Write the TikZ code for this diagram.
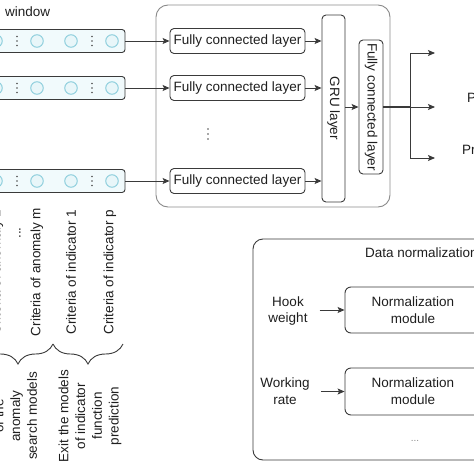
\documentclass[tikz,border=0pt]{standalone}
\usepackage{fontspec}
\setmainfont{Liberation Sans}
\usetikzlibrary{arrows.meta,decorations.pathreplacing}
\definecolor{ink}{HTML}{1E1E1E}
\definecolor{edge}{HTML}{3A3A3A}
\definecolor{lightedge}{HTML}{8A8A8A}
\definecolor{barfill}{HTML}{F1FAFC}
\definecolor{circedge}{HTML}{8FCFDD}
\definecolor{circfill}{HTML}{E8F6F9}
\definecolor{dotc}{HTML}{505050}
\tikzset{
  bar/.style={draw=edge, fill=barfill, rounded corners=3pt, line width=0.9pt, minimum width=140pt, minimum height=23pt, inner sep=0pt},
  circ/.style={circle, draw=circedge, fill=circfill, line width=1pt, minimum size=12.5pt, inner sep=0pt},
  fcbox/.style={draw=edge, rounded corners=4pt, line width=0.9pt, inner sep=1pt, text=ink},
  bigbox/.style={draw=lightedge, rounded corners=12pt, line width=0.9pt, inner sep=0pt},
  dnbox/.style={draw=edge, rounded corners=10pt, line width=0.9pt, inner sep=0pt},
  nbox/.style={draw=edge, rounded corners=6pt, line width=0.9pt, align=center, text=ink, minimum width=136pt},
  txt/.style={text=ink, inner sep=0pt},
  arr/.style={draw=edge, line width=0.9pt, -{Stealth[length=7pt,width=6pt,inset=1.5pt]}},
  plain/.style={draw=edge, line width=0.9pt},
  brc/.style={draw=edge, line width=0.9pt, decorate, decoration={brace, amplitude=20pt}},
}
\begin{document}
\begin{tikzpicture}[x=1pt, y=-1pt, font=\fontsize{13.5}{16.7}\selectfont]
\useasboundingbox (0,0) rectangle (474,474);
\clip (0,0) rectangle (474,474);

% title fragment
\node[txt, anchor=west] (win) at (5,12) {window};

% input rows
\foreach \r/\yy in {1/41, 2/88, 3/181}{
  \node[bar] (b\r) at (55,\yy) {};
  \node[circ] (c\r a) at (-4,\yy) {};
  \node[circ] (c\r b) at (37,\yy) {};
  \node[circ] (c\r c) at (71,\yy) {};
  \node[circ] (c\r d) at (112,\yy) {};
  \foreach \xx in {17,92}{
    \fill[dotc] (\xx,\yy-4.5) circle[radius=0.9pt];
    \fill[dotc] (\xx,\yy) circle[radius=0.9pt];
    \fill[dotc] (\xx,\yy+4.5) circle[radius=0.9pt];
  }
}

% network block
\node[bigbox, minimum width=234pt, minimum height=202pt] (net) at (273,106) {};
\node[fcbox, minimum width=135pt, minimum height=25pt] (f1) at (237.5,41) {Fully connected layer};
\node[fcbox, minimum width=135pt, minimum height=25pt] (f2) at (237.5,88) {Fully connected layer};
\node[fcbox, minimum width=135pt, minimum height=25pt] (f3) at (237.5,181) {Fully connected layer};
\fill[dotc] (208,129) circle[radius=0.8pt];
\fill[dotc] (208,134) circle[radius=0.8pt];
\fill[dotc] (208,139) circle[radius=0.8pt];
\node[fcbox, rotate=-90, minimum width=187pt, minimum height=23pt] (gru) at (333.5,108.5) {GRU layer};
\node[fcbox, rotate=-90, minimum width=134pt, minimum height=24pt] (fcv) at (371,107) {Fully connected layer};

\foreach \r in {1,2,3}{
  \draw[arr] (b\r.east) -- (f\r.west);
  \draw[arr] (f\r.east) -- (f\r.east -| gru.south);
}
\draw[arr] (gru.north |- fcv.south) -- (fcv.south);

% outputs
\coordinate (br) at (410,107);
\coordinate (o1) at (435,53);
\coordinate (o2) at (435,107);
\coordinate (o3) at (435,158);
\draw[plain, line width=1.3pt] (fcv.north) -- (br);
\draw[arr] (br) -- (o2);
\draw[arr] (br) |- (o1);
\draw[arr] (br) |- (o3);
\node[txt, anchor=west] (p1) at (467,98) {P};
\node[txt, anchor=west] (p2) at (462,150) {Pr};

% criteria labels
\node[txt, rotate=90] (l0) at (-3,272) {Criteria of anomaly 1};
\node[txt, rotate=90] (l1) at (20,233) {...};
\node[txt, rotate=90] (l2) at (37,272) {Criteria of anomaly m};
\node[txt, rotate=90] (l3) at (71,272) {Criteria of indicator 1};
\node[txt, rotate=90] (l4) at (110,272) {Criteria of indicator p};

% braces
\coordinate (k0) at (-17,344);
\coordinate (k1) at (53,344);
\coordinate (k2) at (123,344);
\draw[brc] (k1) -- (k0);
\draw[brc] (k2) -- (k1);
\node[txt, rotate=90, align=center] (g1) at (7,416) {Exit the models\\of the\\anomaly\\search models};
\node[txt, rotate=90, align=center] (g2) at (90,416) {Exit the models\\of indicator\\function\\prediction};

% data normalization block
\node[dnbox, minimum width=336pt, minimum height=221pt] (dn) at (421,349.5) {};
\node[txt, anchor=west] (dnt) at (365,253) {Data normalization};
\node[nbox, minimum height=46pt] (nm1) at (413,310) {Normalization\\module};
\node[nbox, minimum height=47pt] (nm2) at (413,391.5) {Normalization\\module};
\node[txt, align=center, inner xsep=12pt] (hw) at (288,311) {Hook\\weight};
\node[txt, align=center, inner xsep=11pt] (wr) at (285,391.5) {Working\\rate};
\draw[arr] (hw.east |- nm1.west) -- (nm1.west);
\draw[arr] (wr.east |- nm2.west) -- (nm2.west);
\node[txt, text=lightedge, font=\fontsize{10}{12}\selectfont] (ell) at (415,441) {...};
\end{tikzpicture}
\end{document}
